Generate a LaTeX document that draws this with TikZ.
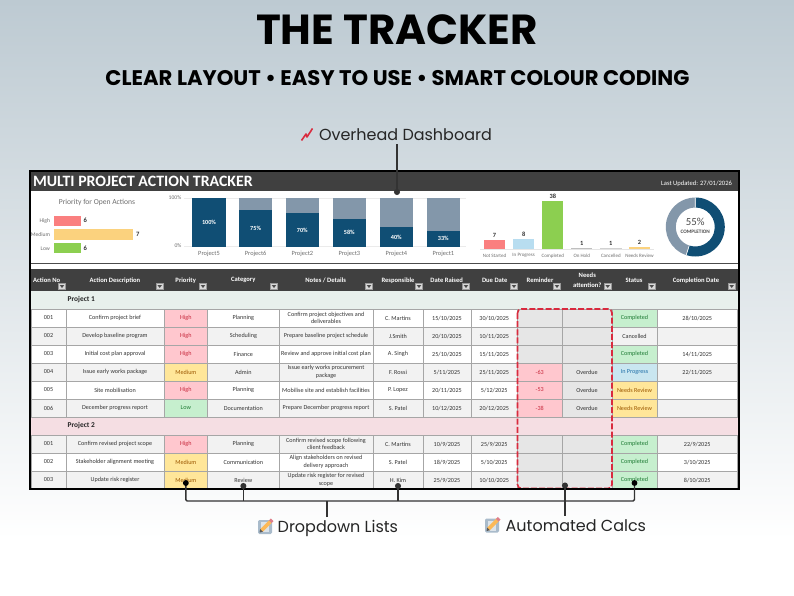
\documentclass[tikz,border=0pt]{standalone}
\usepackage{fontspec}
\setmainfont{Carlito}
\newfontfamily\pop{Poppins}
\usetikzlibrary{arrows.meta,shapes.geometric}
\definecolor{band}{HTML}{404040}
\definecolor{gridc}{HTML}{A6A6A6}
\definecolor{navy}{HTML}{104E74}
\definecolor{slateb}{HTML}{8397AA}
\definecolor{redb}{HTML}{FA7F7F}
\definecolor{yelb}{HTML}{FBD27E}
\definecolor{grnb}{HTML}{8CCF50}
\definecolor{bluv}{HTML}{B8DDF0}
\definecolor{stripe}{HTML}{F2F2F2}
\definecolor{calc}{HTML}{E6E6E6}
\definecolor{pink}{HTML}{FFC7CE}
\definecolor{pinkt}{HTML}{C8283C}
\definecolor{amber}{HTML}{FFE699}
\definecolor{ambert}{HTML}{9C5700}
\definecolor{mint}{HTML}{C6EFCE}
\definecolor{mintt}{HTML}{1E7B34}
\definecolor{sky}{HTML}{C9E6F0}
\definecolor{skyt}{HTML}{1F6FA8}
\definecolor{dashr}{HTML}{D92B3E}
\definecolor{grayt}{HTML}{6E6E6E}
\definecolor{bgtop}{HTML}{BDCAD2}
\definecolor{p1band}{HTML}{E8F0EC}
\definecolor{p2band}{HTML}{F5DEE3}
\definecolor{memo}{HTML}{A9BBCB}
\newcommand\FS[1]{\pgfmathsetlengthmacro\fsz{#1*0.75}\pgfmathsetlengthmacro\fsy{#1*0.92}\fontsize{\fsz}{\fsy}\selectfont}
\tikzset{
  x=0.75pt,y=-0.75pt,
  cell/.style={draw=gridc,line width=0.55pt,inner sep=0pt,outer sep=0pt,minimum height=13.5pt,align=center,text=black!80,font=\FS{6.15}},
  plain/.style={inner sep=0pt,outer sep=0pt},
  hdr/.style={plain,text=white,align=center,font=\FS{6.6}\bfseries},
  tiny/.style={plain,text=grayt,font=\FS{5.6}},
  barlbl/.style={plain,text=white,font=\FS{6.2}\bfseries},
  val/.style={plain,text=black!80,font=\FS{6.6}\bfseries},
  dd/.style={draw=white!60!black,fill=white!85!black,line width=0.3pt,minimum width=5pt,minimum height=4.5pt,inner sep=0pt,outer sep=0pt},
  pr High/.style={fill=pink,text=pinkt},
  pr Medium/.style={fill=amber,text=ambert},
  pr Low/.style={fill=mint,text=mintt},
  st Completed/.style={fill=mint,text=mintt},
  st Cancelled/.style={fill=stripe},
  st In Progress/.style={fill=sky,text=skyt},
  st Needs Review/.style={fill=amber,text=ambert},
  remg/.style={fill=calc},
  remp/.style={fill=pink,text=pinkt},
  callout/.style={plain,text=black!85,font=\FS{16}\pop},
  conn/.style={draw=black!80,line width=1pt},
}
% a table cell: name, x1, x2, ytop, style, text
\newcommand\Cell[6]{%
  \pgfmathsetmacro\cx{(#2+#3)/2}%
  \pgfmathsetmacro\cy{#4+9}%
  \pgfmathsetmacro\cw{(#3-#2)*0.75}%
  \node[cell,#5,minimum width=\cw pt] (#1) at (\cx,\cy) {#6};%
}
\def\TR#1|#2|#3|#4|#5|#6|#7|#8|#9|{%
  \def\aid{#1}\def\ay{#2}\def\af{#3}%
  \Cell{\aid-no}{31}{66}{\ay}{fill=\af}{#4}%
  \Cell{\aid-desc}{66}{164}{\ay}{fill=\af}{#5}%
  \Cell{\aid-prio}{164}{207.7}{\ay}{pr #6}{#6}%
  \Cell{\aid-cat}{207.7}{279}{\ay}{fill=\af}{#7}%
  \Cell{\aid-note}{279}{373}{\ay}{fill=\af}{#8}%
  \Cell{\aid-resp}{373}{423}{\ay}{fill=\af}{#9}%
  \TRb}
\def\TRb#1|#2|#3|#4|#5|#6|#7|{%
  \Cell{\aid-raised}{423}{471}{\ay}{fill=\af}{#1}%
  \Cell{\aid-due}{471}{517.5}{\ay}{fill=\af}{#2}%
  \Cell{\aid-rem}{517.5}{562}{\ay}{#3}{#4}%
  \Cell{\aid-att}{562}{612}{\ay}{fill=calc}{#5}%
  \Cell{\aid-stat}{612}{657}{\ay}{st #6}{#6}%
  \Cell{\aid-comp}{657}{737.5}{\ay}{fill=\af}{#7}%
}
\newcommand\Memo[2]{%
  \fill[rounded corners=1pt,memo] (#1,#2+1) rectangle ++(14,14);
  \fill[memo!40!white] (#1+2.5,#2+3) rectangle ++(8,10);
  \draw[line width=2.8pt,yelb!70!orange] (#1+3.5,#2+11.5) -- (#1+12.5,#2+2.5);
  \draw[line width=2.8pt,pinkt!60] (#1+12.3,#2+2.7) -- (#1+14.2,#2+0.8);
  \fill[black!65] (#1+1.5,#2+13.5) -- (#1+2.2,#2+10) -- (#1+5,#2+12.8) -- cycle;
}
\begin{document}
\begin{tikzpicture}
\useasboundingbox (0,0) rectangle (794,596);
\fill[white] (0,0) rectangle (794,596);
\shade[top color=bgtop,bottom color=white] (0,0) rectangle (794,540);

% headings
\node[plain,text=black,font=\FS{42}\pop\bfseries] (title) at (397,30) {THE TRACKER};
\node[plain,text=black,font=\FS{21.15}\pop\bfseries] (subtitle) at (397.5,78) {CLEAR LAYOUT • EASY TO USE • SMART COLOUR CODING};

% sheet
\fill[white] (30,171) rectangle (739,489);
\fill[band] (30,171) rectangle (739,191);
\node[plain,anchor=west,text=white,font=\FS{15.8}\bfseries] (sheettitle) at (33,181) {MULTI PROJECT ACTION TRACKER};
\node[plain,anchor=east,text=white,font=\FS{6.6}] (updated) at (732,184) {Last Updated: 27/01/2026};

% priority chart
\node[plain,text=grayt,font=\FS{7.6}] (prioTitle) at (97,202) {Priority for Open Actions};
\fill[redb] (54.3,215.7) rectangle (80.7,225.7);
\fill[yelb] (54.3,229.3) rectangle (133.3,239.7);
\fill[grnb] (54.3,243.3) rectangle (80.7,253.3);
\node[tiny,anchor=east] (lHigh) at (50,220.7) {High};
\node[tiny,anchor=east] (lMed) at (50,234.5) {Medium};
\node[tiny,anchor=east] (lLow) at (50,248.3) {Low};
\node[val] (vHigh) at (85.3,220.7) {6};
\node[val] (vMed) at (137.7,234.5) {7};
\node[val] (vLow) at (85.3,248.3) {6};

% project chart
\draw[black!8,line width=0.5pt] (184,198.3) -- (466,198.3) (184,246.7) -- (466,246.7);
\node[tiny] (p100) at (175,198) {100\%};
\node[tiny] (p0) at (178,246) {0\%};
\foreach \xa/\xb/\yt/\nm/\pc in {192.3/225.7/198.3/Project5/100\%,239/272.3/210.3/Project6/75\%,285.7/319/213.3/Project2/70\%,332.7/366/218.7/Project3/58\%,379.7/413/227.3/Project4/40\%,426.7/460/230.7/Project1/33\%}{
  \fill[slateb] (\xa,198.3) rectangle (\xb,246.7);
  \fill[navy] (\xa,\yt) rectangle (\xb,246.7);
  \path (\xa,\yt) -- (\xb,246.7) node[midway,barlbl] (bar\nm) {\pc};
  \path (\xa,254.3) -- (\xb,254.3) node[midway,tiny,font=\FS{6.4}] (lab\nm) {\nm};
}

% status chart
\draw[black!10,line width=0.5pt] (480,249.3) -- (654,249.3);
\foreach \xa/\xb/\yt/\col/\nm/\v/\id in {484/505/240.3/redb/Not Started/7/a,513.3/534/239/bluv/In Progress/8/b,542.3/563.3/201/grnb/Completed/38/c,571.3/592.3/248/black!25/On Hold/1/d,600/621.7/248.3/black!18/Cancelled/1/e,629/650/246.7/yelb/Needs Review/2/f}{
  \fill[\col] (\xa,\yt) rectangle (\xb,249.3);
  \path (\xa,255.7) -- (\xb,255.7) node[midway,tiny,font=\FS{5}] (st\id) {\nm};
  \path (\xa,\yt) -- (\xb,\yt) node[midway,above=2pt,val,font=\FS{6.4}\bfseries] (sv\id) {\v};
}

% donut
\begin{scope}[shift={(695.3,227)},x=0.75pt,y=0.75pt]
  \fill[navy] (90:29.5) arc[start angle=90,end angle=-108,radius=29.5] -- (-108:19.5) arc[start angle=-108,end angle=90,radius=19.5] -- cycle;
  \fill[slateb] (-108:29.5) arc[start angle=-108,end angle=-270,radius=29.5] -- (90:19.5) arc[start angle=90,end angle=252,radius=19.5] -- cycle;
  \draw[white,line width=0.5pt] (90:19.5) -- (90:29.5) (-108:19.5) -- (-108:29.5);
\end{scope}
\node[plain,text=black!70,font=\FS{10.8}] (don1) at (695.3,222.3) {55\%};
\node[plain,text=black!70,font=\FS{5.2}\bfseries] (don2) at (695.3,232) {COMPLETION};

% rule below dashboard
\draw[black!70,line width=0.9pt] (30,263.2) -- (739,263.2);

% header band
\fill[band] (30,269) rectangle (739,291);
\foreach \cxx/\yy/\txt/\id in {46.7/280.3/Action No/a,115/280.3/Action Description/b,185.7/280.3/Priority/c,243.3/280.3/Category/d,325.7/280.3/Notes \slash{} Details/e,398/280.3/Responsible/f,446.7/280.3/Date Raised/g,494.7/280.3/Due Date/h,540/280.3/Reminder/i,587.3/275.7/Needs/j,587.3/285/attention?/k,634/280.3/Status/l,696/280.3/Completion Date/m}{
  \node[hdr] (h\id) at (\cxx,\yy) {\txt};
}
\foreach \dx/\id in {62/a,159.7/b,203/c,274/d,369/e,419/f,466/g,514/h,557/i,607.7/j,651.7/k,731.7/l}{
  \node[dd] (dd\id) at (\dx,286.3) {};
  \fill[black!70] (\dx-2.3,285) -- (\dx+2.3,285) -- (\dx,288) -- cycle;
}

% project 1
\fill[p1band] (31,291) rectangle (738,309);
\node[plain,anchor=west,text=black!85,font=\FS{7.4}\bfseries] (proj1) at (67.7,300) {Project 1};
\TR r1|309|white|001|Confirm project brief|High|Planning|Confirm project objectives and\\deliverables|C. Martins|15/10/2025|30/10/2025|remg|||Completed|28/10/2025|
\TR r2|327|stripe|002|Develop baseline program|High|Scheduling|Prepare baseline project schedule|J.Smith|20/10/2025|10/11/2025|remg|||Cancelled||
\TR r3|345|white|003|Initial cost plan approval|High|Finance|Review and approve initial cost plan|A. Singh|25/10/2025|15/11/2025|remg|||Completed|14/11/2025|
\TR r4|363|stripe|004|Issue early works package|Medium|Admin|Issue early works procurement\\package|F. Rossi|5/11/2025|25/11/2025|remp|-63|Overdue|In Progress|22/11/2025|
\TR r5|381|white|005|Site mobilisation|High|Planning|Mobilise site and establish facilities|P. Lopez|20/11/2025|5/12/2025|remp|-53|Overdue|Needs Review||
\TR r6|399|stripe|006|December progress report|Low|Documentation|Prepare December progress report|S. Patel|10/12/2025|20/12/2025|remp|-38|Overdue|Needs Review||

% project 2
\fill[p2band] (31,417) rectangle (738,435);
\draw[gridc,line width=0.4pt] (31,417) -- (738,417) (31,435) -- (738,435);
\node[plain,anchor=west,text=black!85,font=\FS{7.4}\bfseries] (proj2) at (67.7,426) {Project 2};
\TR q1|435|stripe|001|Confirm revised project scope|High|Planning|Confirm revised scope following\\client feedback|C. Martins|10/9/2025|25/9/2025|remg|||Completed|22/9/2025|
\TR q2|453|white|002|Stakeholder alignment meeting|Medium|Communication|Align stakeholders on revised\\delivery approach|S. Patel|18/9/2025|5/10/2025|remg|||Completed|3/10/2025|
\TR q3|471|stripe|003|Update risk register|Medium|Review|Update risk register for revised\\scope|H. Kim|25/9/2025|10/10/2025|remg|||Completed|8/10/2025|

% automated-calcs outline and sheet frame
\draw[dashr,line width=1.2pt,dash pattern=on 4.5pt off 1.6pt,rounded corners=3pt] (517.5,309) rectangle (612,488.5);
\draw[black,line width=1.5pt] (30,171) rectangle (739,489);

% callouts
\node[callout,anchor=west] (lblDash) at (319,135) {Overhead Dashboard};
\draw[dashr,line width=1.2pt,line join=round] (301.5,140.5) -- (306,134) -- (307,137) -- (312.5,128.5);
\coordinate (dashEnd) at (397,195);
\draw[conn,{Circle[length=4.5pt]}-] (dashEnd) -- (397,144);

\node[callout,anchor=west] (lblDrop) at (277.7,528) {Dropdown Lists};
\Memo{258}{519}
\coordinate (bus) at (327,501);
\draw[conn] (327,517) -- (bus);
\draw[conn,rounded corners=1pt] ([yshift=4.5pt]q3-prio.south) -- (q3-prio.south |- bus) -- (q3-stat.south |- bus) -- ([yshift=4.5pt]q3-stat.south);
\fill[black] ([yshift=4.5pt]q3-prio.south) circle (2.2pt) ([yshift=4.5pt]q3-stat.south) circle (2.2pt);
\foreach \n in {q3-cat,q3-resp}{
  \draw[conn,{Circle[length=4.5pt]}-] ([yshift=4.5pt]\n.south) -- (\n.south |- bus);
}

\node[callout,anchor=west] (lblCalc) at (505.7,525.3) {Automated Calcs};
\Memo{485}{517.5}
\coordinate (calcTop) at (565,482.5);
\draw[conn,{Circle[length=4.5pt]}-] (calcTop) -- (565,516);
\end{tikzpicture}
\end{document}
